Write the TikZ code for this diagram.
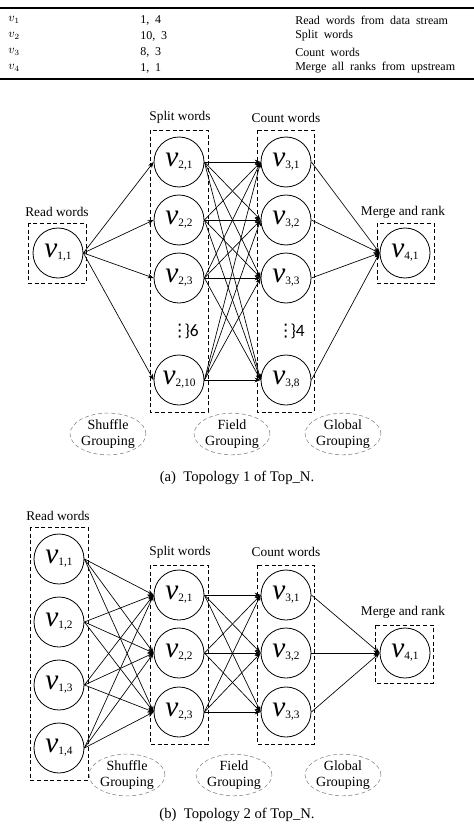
\documentclass[tikz,border=0pt]{standalone}
\usepackage{fontspec}
\setmainfont{Liberation Serif}
\newfontfamily\carlito{Carlito}
\newfontfamily\dejavu{DejaVu Sans}
\usetikzlibrary{shapes.geometric,arrows.meta}

\newcommand{\vlab}[1]{{\fontsize{22}{22}\selectfont\textit{v}}\raisebox{-1.5pt}{\fontsize{8.5}{8.5}\selectfont #1}}
\newcommand{\tabfont}{\fontsize{9}{10}\selectfont\spaceskip=4.4pt\relax}
\newcommand{\moredots}[1]{{\dejavu ⋮}\kern-3pt{\carlito\}#1}}

\begin{document}
\begin{tikzpicture}[x=0.75pt,y=-0.75pt]
\tikzstyle{mynode} = [circle, draw, line width=0.6pt, minimum size=37.5pt, inner sep=0pt]
\tikzstyle{mybox} = [draw, dash pattern=on 3pt off 2pt, line width=0.7pt]
\tikzstyle{mygroup} = [ellipse, draw=gray, densely dashed, line width=0.4pt, minimum width=56pt, minimum height=30pt, inner sep=0pt, align=center, font=\fontsize{10.5}{12.5}\selectfont]
\tikzstyle{mytitle} = [font=\fontsize{10}{12}\selectfont]
\tikzstyle{mycell} = [anchor=west, inner sep=0pt, font=\tabfont]
\tikzstyle{mydots} = [inner sep=0pt, font=\fontsize{13}{13}\selectfont]
\tikzset{myedge/.style={-{Stealth[length=4.5pt,width=3.5pt]}, line width=0.5pt}}

\useasboundingbox (0,0) rectangle (474,824);

% table
\draw[line width=0.9pt] (0,8) -- (474,8);
\draw[line width=0.9pt] (0,79) -- (474,79);
\node[mycell] (tv1) at (8,20) {$v_1$};
\node[mycell] (tv2) at (8,36) {$v_2$};
\node[mycell] (tv3) at (8,52) {$v_3$};
\node[mycell] (tv4) at (8,68) {$v_4$};
\node[mycell] (tr1) at (140,20) {1, 4};
\node[mycell] (tr2) at (140,36) {10, 3};
\node[mycell] (tr3) at (140,52) {8, 3};
\node[mycell] (tr4) at (140,68) {1, 1};
\node[mycell] (td1) at (295,20) {Read words from data stream};
\node[mycell] (td2) at (295,36) {Split words};
\node[mycell] (td3) at (295,52) {Count words};
\node[mycell] (td4) at (295,68) {Merge all ranks from upstream};

% topology 1
\draw[mybox] (28,223) rectangle (86,283);
\draw[mybox] (150,130) rectangle (208,412);
\draw[mybox] (257,130) rectangle (314,412);
\draw[mybox] (377,223) rectangle (434,283);
\node[mytitle] (aread) at (57,212) {Read words};
\node[mytitle] (asplit) at (180,117) {Split words};
\node[mytitle] (acount) at (286,118) {Count words};
\node[mytitle] (amerge) at (403,212) {Merge and rank};
\node[mynode] (a11) at (58,253) {\vlab{1,1}};
\node[mynode] (a21) at (179,162) {\vlab{2,1}};
\node[mynode] (a22) at (179,220) {\vlab{2,2}};
\node[mynode] (a23) at (179,278) {\vlab{2,3}};
\node[mynode] (a24) at (179,380) {\vlab{2,10}};
\node[mynode] (a31) at (286,162) {\vlab{3,1}};
\node[mynode] (a32) at (286,220) {\vlab{3,2}};
\node[mynode] (a33) at (286,278) {\vlab{3,3}};
\node[mynode] (a34) at (286,380) {\vlab{3,8}};
\node[mynode] (a41) at (405,253) {\vlab{4,1}};
\node[mydots] (a2dots) at (185,331) {\moredots{6}};
\node[mydots] (a3dots) at (291,331) {\moredots{4}};
\foreach \j in {1,...,4} \draw[myedge] (a11.east) -- (a2\j.west);
\foreach \i in {1,...,4} \foreach \j in {1,...,4} \draw[myedge] (a2\i.east) -- (a3\j.west);
\foreach \i in {1,...,4} \draw[myedge] (a3\i.east) -- (a41.west);
\node[mygroup] (ashuffle) at (108,434) {Shuffle\\Grouping};
\node[mygroup] (afield) at (232,434) {Field\\Grouping};
\node[mygroup] (aglobal) at (343,434) {Global\\Grouping};
\node[font=\fontsize{11}{13}\selectfont] (acap) at (237,478) {(a)\ \ Topology 1 of Top\_N.};

% topology 2
\draw[mybox] (30,527) rectangle (88,780);
\draw[mybox] (150,565) rectangle (208,744);
\draw[mybox] (257,565) rectangle (314,744);
\draw[mybox] (375,625) rectangle (433,683);
\node[mytitle] (bread) at (58,516) {Read words};
\node[mytitle] (bsplit) at (180,552) {Split words};
\node[mytitle] (bcount) at (286,552) {Count words};
\node[mytitle] (bmerge) at (403,612) {Merge and rank};
\node[mynode] (b11) at (59,559) {\vlab{1,1}};
\node[mynode] (b12) at (59,622) {\vlab{1,2}};
\node[mynode] (b13) at (59,685) {\vlab{1,3}};
\node[mynode] (b14) at (59,748) {\vlab{1,4}};
\node[mynode] (b21) at (179,595) {\vlab{2,1}};
\node[mynode] (b22) at (179,653) {\vlab{2,2}};
\node[mynode] (b23) at (179,712) {\vlab{2,3}};
\node[mynode] (b31) at (286,595) {\vlab{3,1}};
\node[mynode] (b32) at (286,653) {\vlab{3,2}};
\node[mynode] (b33) at (286,712) {\vlab{3,3}};
\node[mynode] (b41) at (405,653) {\vlab{4,1}};
\foreach \i in {1,...,4} \foreach \j in {1,...,3} \draw[myedge] (b1\i.east) -- (b2\j.west);
\foreach \i in {1,...,3} \foreach \j in {1,...,3} \draw[myedge] (b2\i.east) -- (b3\j.west);
\foreach \i in {1,...,3} \draw[myedge] (b3\i.east) -- (b41.west);
\node[mygroup] (bshuffle) at (127,775) {Shuffle\\Grouping};
\node[mygroup] (bfield) at (234,775) {Field\\Grouping};
\node[mygroup] (bglobal) at (343,775) {Global\\Grouping};
\node[font=\fontsize{11}{13}\selectfont] (bcap) at (237,815) {(b)\ \ Topology 2 of Top\_N.};
\end{tikzpicture}
\end{document}
